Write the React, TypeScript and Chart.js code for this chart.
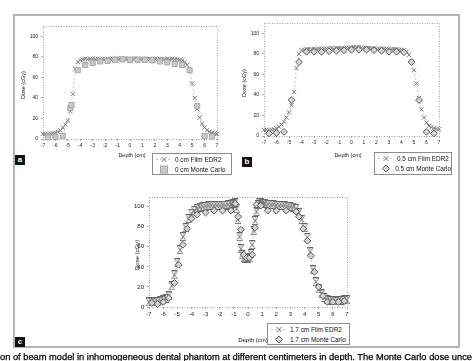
import React, { useEffect, useRef } from "react";
import { Chart, registerables } from "chart.js";
Chart.register(...registerables);

const X_TICKS = [-7, -6, -5, -4, -3, -2, -1, 0, 1, 2, 3, 4, 5, 6, 7];
const Y_TICKS = [0, 20, 40, 60, 80, 100];

const FILM_DEPTHS = [
  -7, -6.8, -6.6, -6.4, -6.2, -6, -5.8, -5.6, -5.4, -5.2,
  -5, -4.8, -4.6, -4.4, -4.2, -4, -3.8, -3.6, -3.4, -3.2,
  -3, -2.8, -2.6, -2.4, -2.2, -2, -1.8, -1.6, -1.4, -1.2,
  -1, -0.8, -0.6, -0.4, -0.2, 0, 0.2, 0.4, 0.6, 0.8,
  1, 1.2, 1.4, 1.6, 1.8, 2, 2.2, 2.4, 2.6, 2.8,
  3, 3.2, 3.4, 3.6, 3.8, 4, 4.2, 4.4, 4.6, 4.8,
  5, 5.2, 5.4, 5.6, 5.8, 6, 6.2, 6.4, 6.6, 6.8,
  7,
];

const FILM_A = [
  5, 5, 4.5, 5, 5.5, 6, 7, 8.5, 11, 14,
  18, 27, 44, 68, 75, 77, 77.5, 78, 77.5, 78,
  78, 77.5, 78, 78, 78, 77.5, 78, 78, 78, 78,
  78.5, 78, 78, 78.5, 78, 78, 78, 78.5, 78, 78,
  78, 78, 77.5, 78, 78, 78, 77.5, 78, 78, 77.5,
  78, 77.5, 78, 77.5, 77.5, 77, 76.5, 75, 72, 66,
  54, 40, 29, 21, 15, 11, 8.5, 7, 6, 5.5,
  5,
];
const MC_A_DEPTHS = [-6.6, -6.0, -5.4, -4.8, -4.7, -4.2, -3.6, -3.0, -2.4, -1.8, -1.2, -0.6, 0, 0.6, 1.2, 1.8, 2.4, 3.0, 3.6, 4.2, 4.8, 5.4, 6.0, 6.6];
const MC_A = [1.5, 2, 3, 30, 33, 67, 72, 74, 75.5, 76, 77, 77.5, 77, 77, 77, 76.5, 75.5, 74.5, 73, 72, 67, 32, 3, 2.5];

const FILM_B = [
  6, 6, 5.5, 6, 6.5, 7.5, 9, 11, 14, 18,
  23, 30, 43, 66, 80, 83.5, 84, 84.5, 84.5, 84.5,
  85, 84.5, 85, 85, 85, 85, 85, 85.5, 85, 85.5,
  85.5, 85.5, 85.5, 86, 86, 86, 86.5, 86.5, 86.5, 86,
  86, 85.5, 85.5, 85.5, 85, 85, 85, 85, 85, 85,
  84.5, 84.5, 84.5, 84.5, 84, 84, 83.5, 82, 79, 73,
  64, 51, 37, 26, 18, 13, 10, 8.5, 7.5, 7,
  6.5,
];
const MC_B_DEPTHS = [-6.6, -6.0, -5.4, -4.8, -4.2, -3.6, -3.0, -2.4, -1.8, -1.2, -0.6, 0, 0.6, 1.2, 1.8, 2.4, 3.0, 3.6, 4.2, 4.8, 5.4, 6.0, 6.6];
const MC_B = [2.5, 3, 4, 35, 72, 82, 82, 82, 82.5, 83, 83.5, 84, 84, 84, 83.5, 83, 82, 82, 81.5, 72, 35, 4, 2.5];

const FILM_C_DEPTHS = [
  -7, -6.8, -6.6, -6.4, -6.2, -6, -5.8, -5.6, -5.4, -5.2,
  -5, -4.8, -4.6, -4.4, -4.2, -4, -3.8, -3.6, -3.4, -3.2,
  -3, -2.8, -2.6, -2.4, -2.2, -2, -1.8, -1.6, -1.4, -1.2,
  -1.1, -1, -0.9, -0.8, -0.7, -0.6, -0.5, -0.4, -0.3, -0.2,
  -0.1, 0, 0.1, 0.2, 0.3, 0.4, 0.5, 0.6, 0.7, 0.8,
  0.9, 1, 1.1,
  1.2, 1.4, 1.6, 1.8, 2, 2.2, 2.4, 2.6, 2.8, 3,
  3.2, 3.4, 3.6, 3.8, 4, 4.2, 4.4, 4.6, 4.8, 5,
  5.2, 5.4, 5.6, 5.8, 6, 6.2, 6.4, 6.6, 6.8, 7,
];
const FILM_C = [
  5, 5, 5, 5.5, 6, 7, 8.5, 11, 21, 32,
  44, 57, 70, 79, 88, 93, 96, 98, 99.5, 100,
  100.5, 101, 101, 101, 101, 101, 101.5, 101.5, 102, 102.5,
  103, 103.5, 104, 98, 87, 70, 58, 52, 49, 48.5,
  48, 48, 49, 53, 62, 76, 86, 95, 102, 104,
  104, 103.5, 103,
  103, 102.5, 102, 102, 101.5, 101, 101, 101, 100.5, 100,
  99.5, 98, 94, 87, 79, 69, 55, 37, 25, 18,
  13, 9.5, 7.5, 6.5, 6, 6, 6, 6.5, 7, 7,
];
const MC_C_DEPTHS = [-6.8, -6.4, -6.0, -5.6, -5.2, -4.9, -4.6, -4.3, -4.0, -3.6, -3.0, -2.4, -1.8, -1.2, -0.9, -0.7, -0.5, -0.3, -0.1, 0.1, 0.3, 0.5, 0.6, 0.9, 1.4, 2.0, 2.7, 3.4, 3.6, 3.9, 4.2, 4.45, 4.7, 5.0, 5.3, 5.6, 6.0, 6.4, 6.8];
const MC_C = [4, 3, 5, 9, 24, 42, 62, 78, 88, 92, 94, 96, 96, 96, 103, 90, 77, 52, 49, 49, 52, 79, 102, 101, 96, 96, 96, 95, 90, 78, 66, 51, 35, 20, 11, 5, 5, 5, 6];

const FONT = "'Liberation Sans', Arial, sans-serif";

const PAD_L = 26, PAD_T = 5, PAD_R = 8, AX_H = 16;

function pts(xs: number[], ys: number[]) {
  return xs.map((x, i) => ({ x, y: ys[i] }));
}

function cappedX(): HTMLCanvasElement {
  const c = document.createElement("canvas");
  c.width = 8; c.height = 9;
  const g = c.getContext("2d")!;
  g.strokeStyle = "#666";
  g.lineWidth = 1;
  g.beginPath();
  g.moveTo(1.5, 1.5); g.lineTo(6.5, 7.5);
  g.moveTo(6.5, 1.5); g.lineTo(1.5, 7.5);
  g.moveTo(1, 0.5); g.lineTo(7, 0.5);
  g.moveTo(1, 8.5); g.lineTo(7, 8.5);
  g.stroke();
  return c;
}

const dotBorder = {
  id: "dotBorder",
  beforeDatasetsDraw(chart: any) {
    const { ctx, chartArea: a } = chart;
    ctx.save();
    ctx.strokeStyle = "#a0a0a0";
    ctx.lineWidth = 1;
    ctx.setLineDash([1, 1.5]);
    ctx.strokeRect(Math.round(a.left) + 0.5, Math.round(a.top) + 0.5, Math.round(a.right - a.left), Math.round(a.bottom - a.top));
    ctx.restore();
  },
};

type Rect = [number, number, number, number];

function DoseChart(props: { rect: Rect; fx: number[]; fy: number[]; mx: number[]; my: number[]; mc: "square" | "diamond"; capped?: boolean; tick: number }) {
  const ref = useRef<HTMLCanvasElement>(null);
  const [l, t, r, b] = props.rect;
  const w = r - l + PAD_L + PAD_R;
  const h = b - t + PAD_T + AX_H;
  useEffect(() => {
    const filmStyle: any = props.capped ? cappedX() : "crossRot";
    const chart = new Chart(ref.current!, {
      type: "line",
      data: {
        datasets: [
          {
            data: pts(props.mx, props.my),
            showLine: false,
            pointStyle: props.mc === "square" ? "rect" : "rectRot",
            pointRadius: props.mc === "square" ? 3.6 : 3.4,
            pointBackgroundColor: props.mc === "square" ? "#c9c9c9" : "#d4d4d4",
            pointBorderColor: props.mc === "square" ? "#a8a8a8" : "#5c5c5c",
            pointBorderWidth: 1,
            clip: false,
          } as any,
          {
            data: pts(props.fx, props.fy),
            showLine: true,
            borderColor: "#b5b5b5",
            borderWidth: 0.8,
            borderDash: [2, 2],
            pointStyle: filmStyle,
            pointRadius: 3,
            pointBorderColor: "#7a7a7a",
            pointBackgroundColor: "#7a7a7a",
            pointBorderWidth: 1,
            clip: false,
          } as any,
        ],
      },
      options: {
        responsive: false,
        animation: false,
        events: [],
        layout: { padding: { top: PAD_T, right: PAD_R, left: 0, bottom: 0 } },
        plugins: { legend: { display: false }, tooltip: { enabled: false } },
        scales: {
          x: {
            type: "linear",
            min: -7,
            max: 7,
            afterBuildTicks: (s: any) => { s.ticks = X_TICKS.map((v) => ({ value: v })); },
            afterFit: (s: any) => { s.height = AX_H; },
            ticks: { font: { family: FONT, size: props.tick }, color: "#222", padding: 2, maxRotation: 0, autoSkip: false },
            grid: { display: true, drawOnChartArea: false, drawTicks: true, tickLength: 2, color: "#aaa" },
            border: { display: false },
          },
          y: {
            type: "linear",
            min: 0,
            max: 110,
            afterBuildTicks: (s: any) => { s.ticks = Y_TICKS.map((v) => ({ value: v })); },
            afterFit: (s: any) => { s.width = PAD_L; },
            ticks: { font: { family: FONT, size: props.tick }, color: "#222", padding: 3 },
            grid: { display: true, drawOnChartArea: false, drawTicks: true, tickLength: 2, color: "#aaa" },
            border: { display: false },
          },
        },
      } as any,
      plugins: [dotBorder],
    });
    return () => chart.destroy();
  }, []);
  return (
    <canvas
      ref={ref}
      width={w}
      height={h}
      style={{ position: "absolute", left: l - PAD_L, top: t - PAD_T, width: w, height: h }}
    />
  );
}

function Marker({ kind }: { kind: string }) {
  if (kind === "film") {
    return (
      <svg width="18" height="9" style={{ display: "block" }}>
        <line x1="1" y1="4.5" x2="17" y2="4.5" stroke="#b0b0b0" strokeWidth="0.8" strokeDasharray="2 2" />
        <path d="M6.5 2 L11.5 7 M11.5 2 L6.5 7" stroke="#7a7a7a" strokeWidth="1" />
      </svg>
    );
  }
  if (kind === "square") {
    return (
      <svg width="18" height="9" style={{ display: "block" }}>
        <rect x="5.5" y="1" width="7" height="7" fill="#c9c9c9" stroke="#a8a8a8" strokeWidth="1" />
      </svg>
    );
  }
  return (
    <svg width="18" height="9" style={{ display: "block" }}>
      <path d="M9 1 L12.5 4.5 L9 8 L5.5 4.5 Z" fill="#d4d4d4" stroke="#5c5c5c" strokeWidth="1" />
    </svg>
  );
}

function Legend(props: { left: number; top: number; width: number; height: number; items: { label: string; kind: string }[] }) {
  return (
    <div
      style={{
        position: "absolute", left: props.left, top: props.top, width: props.width, height: props.height,
        boxSizing: "border-box", border: "1px solid #8c8c8c", background: "#fff",
        display: "flex", flexDirection: "column", justifyContent: "center", paddingLeft: 2,
      }}
    >
      {props.items.map((it) => (
        <div key={it.label} style={{ display: "flex", alignItems: "center", height: 10 }}>
          <Marker kind={it.kind} />
          <span style={{ font: `6.4px ${FONT}`, color: "#111", marginLeft: 2, whiteSpace: "nowrap" }}>{it.label}</span>
        </div>
      ))}
    </div>
  );
}

function Txt(props: { x: number; y: number; text: string; size: number; rot?: boolean }) {
  return (
    <div
      style={{
        position: "absolute", left: props.x, top: props.y, transform: `translate(-50%, -50%)${props.rot ? " rotate(-90deg)" : ""}`,
        font: `${props.size}px ${FONT}`, color: "#111", whiteSpace: "nowrap",
      }}
    >
      {props.text}
    </div>
  );
}

function Tag(props: { x: number; y: number; text: string }) {
  return (
    <div
      style={{
        position: "absolute", left: props.x, top: props.y, width: 10, height: 10, background: "#111",
        color: "#fff", font: `bold 8px ${FONT}`, lineHeight: "9px", textAlign: "center",
      }}
    >
      {props.text}
    </div>
  );
}

export default function App() {
  return (
    <div style={{ position: "absolute", left: 0, top: 0, width: 474, height: 361, overflow: "hidden", background: "#fff" }}>
      <div style={{ position: "absolute", left: 13, top: 14, width: 447, height: 334, boxSizing: "border-box", border: "2px solid #b4b4b4" }} />

      <DoseChart rect={[43, 25, 217, 139]} fx={FILM_DEPTHS} fy={FILM_A} mx={MC_A_DEPTHS} my={MC_A} mc="square" tick={5} />
      <Txt x={23} y={85} text="Dose (cGy)" size={5.5} rot />
      <Txt x={132} y={155} text="Depth (cm)" size={5.5} />
      <Legend left={152} top={153} width={80} height={22} items={[{ label: "0 cm Film EDR2", kind: "film" }, { label: "0 cm Monte Carlo", kind: "square" }]} />
      <Tag x={15} y={155} text="a" />

      <DoseChart rect={[264, 22, 439, 136]} fx={FILM_DEPTHS} fy={FILM_B} mx={MC_B_DEPTHS} my={MC_B} mc="diamond" tick={5} />
      <Txt x={244} y={83} text="Dose (cGy)" size={5.5} rot />
      <Txt x={348} y={155} text="Depth (cm)" size={5.5} />
      <Legend left={374} top={152} width={78} height={23} items={[{ label: "0.5 cm Film EDR2", kind: "film" }, { label: "0.5 cm Monte Carlo", kind: "diamond" }]} />
      <Tag x={242} y={157} text="b" />

      <DoseChart rect={[149, 195, 347, 307]} fx={FILM_C_DEPTHS} fy={FILM_C} mx={MC_C_DEPTHS} my={MC_C} mc="diamond" capped tick={6} />
      <Txt x={137} y={255} text="Dose (cGy)" size={6} rot />
      <Txt x={253} y={340} text="Depth (cm)" size={6} />
      <Legend left={267} top={323} width={83} height={22} items={[{ label: "1.7 cm Film EDR2", kind: "film" }, { label: "1.7 cm Monte Carlo", kind: "diamond" }]} />
      <Tag x={15} y={337} text="c" />

      <div style={{ position: "absolute", left: 0, top: 350.5, font: `9.3px ${FONT}`, color: "#000", whiteSpace: "nowrap", lineHeight: "12px", WebkitTextStroke: "0.25px #000" }}>
        on of beam model in inhomogeneous dental phantom at different centimeters in depth. The Monte Carlo dose unce
      </div>
    </div>
  );
}
